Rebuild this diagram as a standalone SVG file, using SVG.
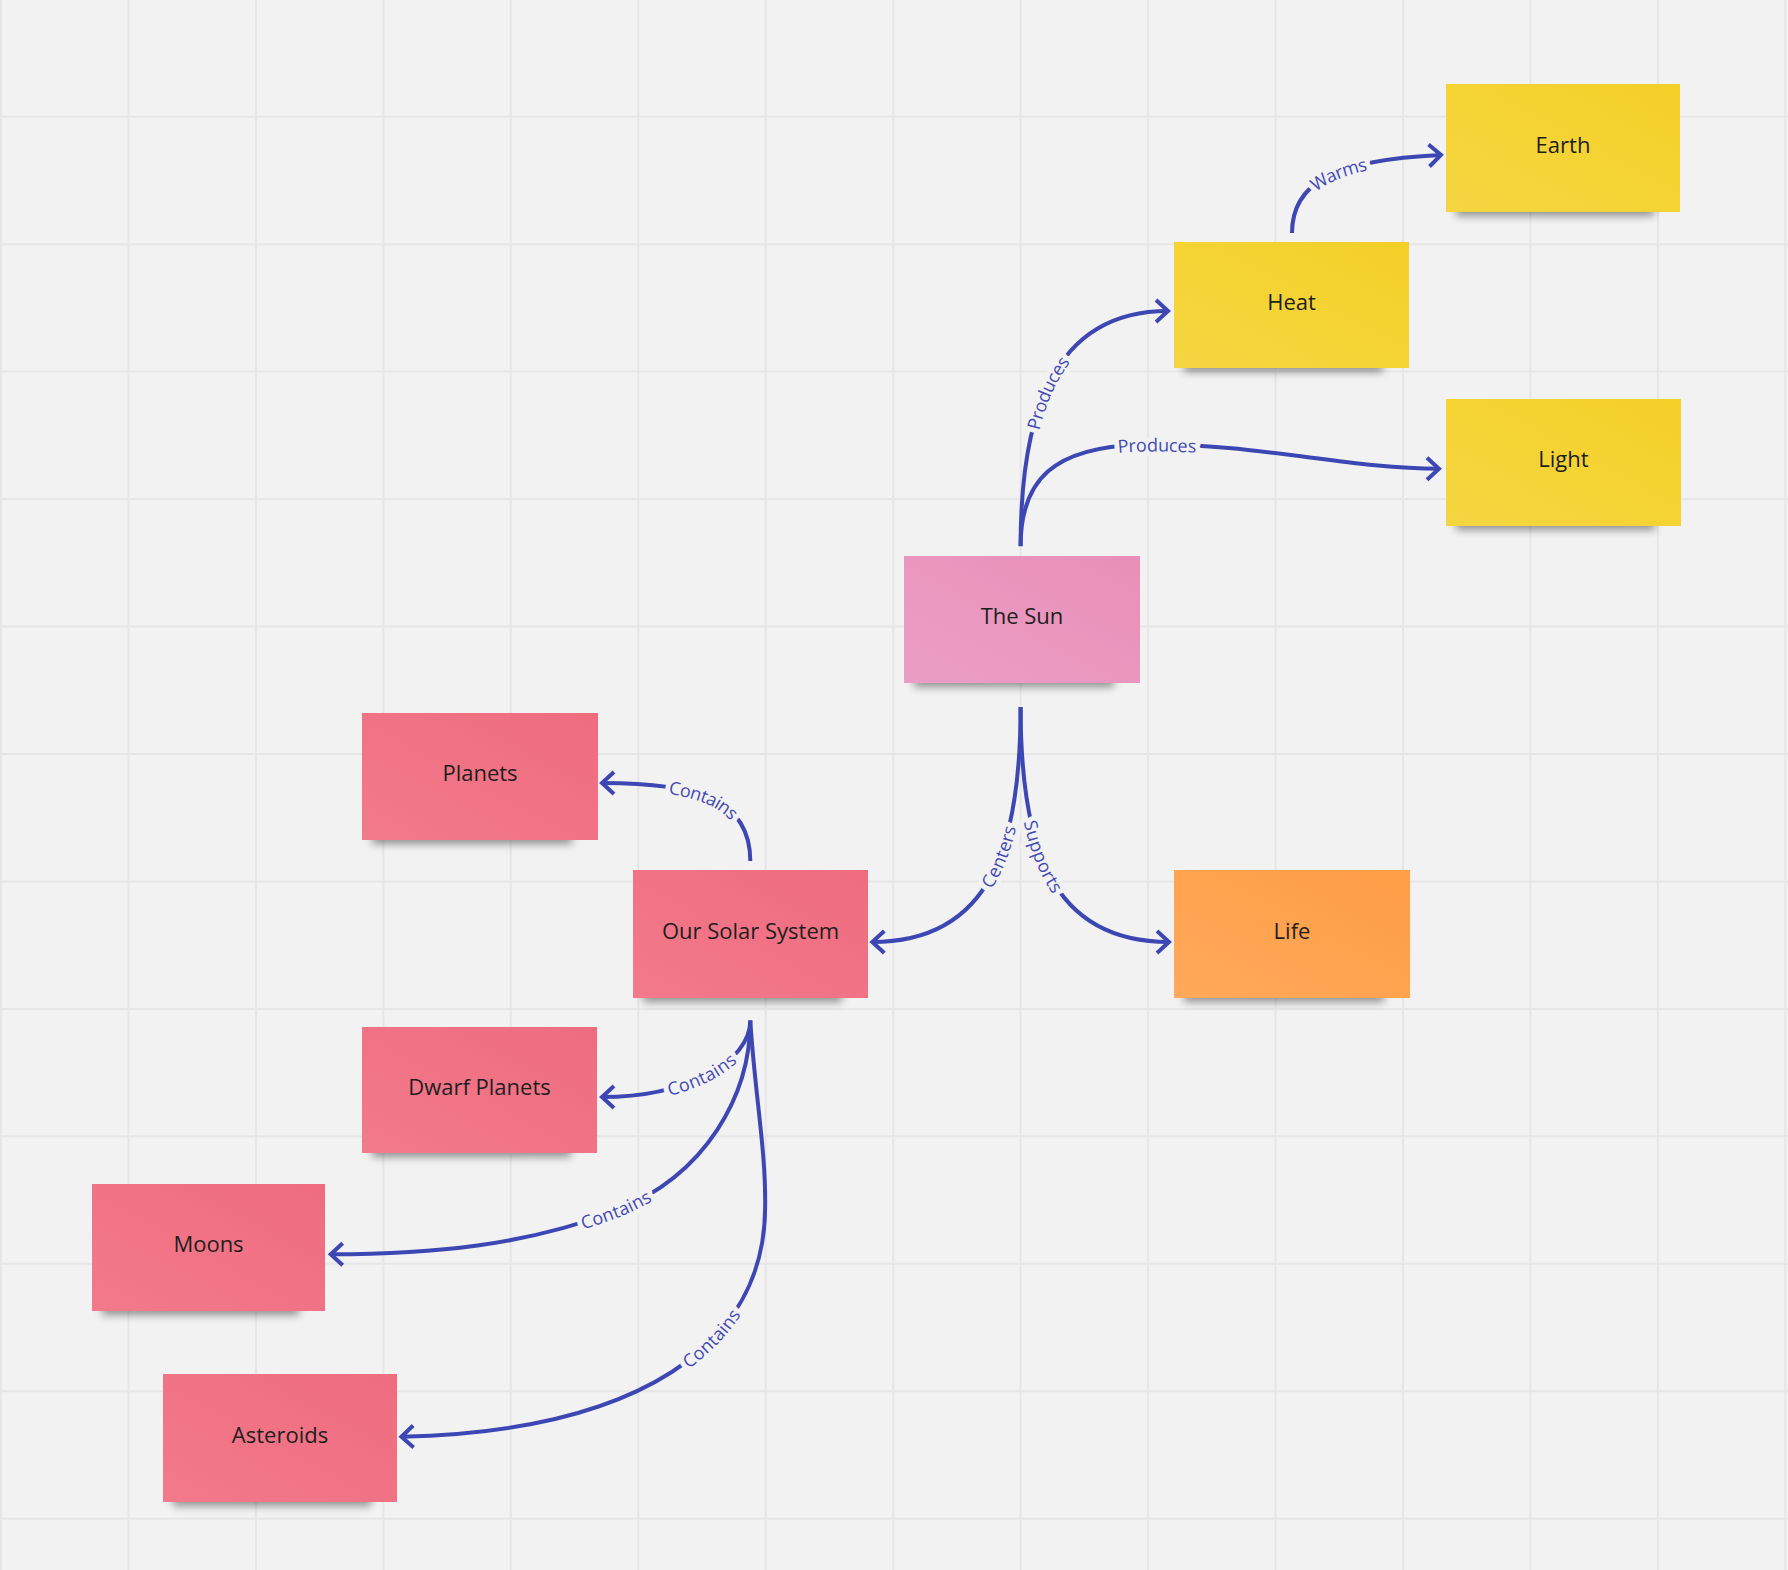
<svg xmlns="http://www.w3.org/2000/svg" width="1788" height="1570" viewBox="0 0 1788 1570">
<style>
.grid{stroke:#e6e6e6;stroke-width:2;fill:none}
.shadow{fill:#000;opacity:.4;filter:url(#sh)}
.ntext{font-family:"Open Sans","Noto Sans","Liberation Sans",sans-serif;font-size:22px;fill:#1e1e1e;text-anchor:middle;dominant-baseline:central}
.conn{fill:none;stroke:#3d47b4;stroke-width:4;marker-end:url(#arr)}
.lbl,.halo{font-family:"Open Sans","Noto Sans","Liberation Sans",sans-serif;font-size:18px;text-anchor:middle;dominant-baseline:central}
.lbl{fill:#4149b5}
.halo{fill:#f2f2f2;stroke:#f2f2f2;stroke-width:10;stroke-linejoin:round}
</style>
<defs>
<filter id="sh" x="-20%" y="-100%" width="140%" height="300%"><feGaussianBlur stdDeviation="4"/></filter>
<linearGradient id="gY" x1="1" y1="0" x2="0" y2="1"><stop offset="0" stop-color="#f3d027"/><stop offset="1" stop-color="#f5d641"/></linearGradient>
<linearGradient id="gP" x1="1" y1="0" x2="0" y2="1"><stop offset="0" stop-color="#e98fb8"/><stop offset="1" stop-color="#eb9ec4"/></linearGradient>
<linearGradient id="gR" x1="1" y1="0" x2="0" y2="1"><stop offset="0" stop-color="#ef6c7f"/><stop offset="1" stop-color="#f27a8b"/></linearGradient>
<linearGradient id="gO" x1="1" y1="0" x2="0" y2="1"><stop offset="0" stop-color="#fe9d45"/><stop offset="1" stop-color="#ffa95a"/></linearGradient>
<marker id="arr" markerUnits="userSpaceOnUse" viewBox="-16 -16 20 32" markerWidth="20" markerHeight="32" refX="0" refY="0" orient="auto" overflow="visible">
<path d="M-12,-11 L0,0 L-12,11" fill="none" stroke="#3d47b4" stroke-width="4" stroke-linejoin="miter"/>
</marker>
<path id="p1" d="M1292,233 C1292,185 1330,160 1441,155"/>
<path id="p2" d="M1020.6,546 C1020.6,420 1050,311 1168,311"/>
<path id="p3" d="M1020.6,546.2 C1020.6,478.9 1054.8,447 1140.3,444.7 C1254.3,442.4 1345.6,468.7 1439,468.7"/>
<path id="p4" d="M1020.6,707 C1020.6,843.8 992,942 872.3,942"/>
<path id="p4r" d="M872.3,942 C992,942 1020.6,843.8 1020.6,707"/>
<path id="p5" d="M1020.6,707 C1020.6,843.8 1049,942 1169,942"/>
<path id="p6" d="M750.3,861 C750.3,798 695.6,783 602,783"/>
<path id="p6r" d="M602,783 C695.6,783 750.3,798 750.3,861"/>
<path id="p7" d="M750.3,1020.6 C750.3,1063 683.7,1097 602,1097"/>
<path id="p7r" d="M602,1097 C683.7,1097 750.3,1063 750.3,1020.6"/>
<path id="p8" d="M750.3,1020.6 C750.3,1094.7 707,1174.5 615.8,1211 C524.5,1245.3 433.3,1254.3 330.7,1254.3"/>
<path id="p8r" d="M330.7,1254.3 C433.3,1254.3 524.5,1245.3 615.8,1211 C707,1174.5 750.3,1094.7 750.3,1020.6"/>
<path id="p9" d="M750.3,1020.6 C754.9,1094.7 766.3,1151.7 765.1,1208.7 C764,1345.6 638.6,1431.1 401.4,1436.8"/>
<path id="p9r" d="M401.4,1436.8 C638.6,1431.1 764,1345.6 765.1,1208.7 C766.3,1151.7 754.9,1094.7 750.3,1020.6"/>
</defs>
<rect x="0" y="0" width="1788" height="1570" fill="#f2f2f2"/>
<path class="grid" d="M1,0V1570M128.5,0V1570M255.9,0V1570M383.4,0V1570M510.8,0V1570M638.3,0V1570M765.7,0V1570M893.2,0V1570M1020.6,0V1570M1148.1,0V1570M1275.5,0V1570M1403,0V1570M1530.4,0V1570M1657.9,0V1570M1785.3,0V1570M0,116.7H1788M0,244.2H1788M0,371.6H1788M0,499.1H1788M0,626.5H1788M0,754H1788M0,881.4H1788M0,1008.9H1788M0,1136.3H1788M0,1263.8H1788M0,1391.2H1788M0,1518.7H1788"/>

<g id="node-earth"><rect class="shadow" x="1456" y="202" width="198" height="14"/><rect x="1446" y="84" width="234" height="128" fill="url(#gY)"/><text class="ntext" x="1563" y="144">Earth</text></g>
<g id="node-heat"><rect class="shadow" x="1184" y="358" width="199" height="14"/><rect x="1174" y="242" width="235" height="126" fill="url(#gY)"/><text class="ntext" x="1291.5" y="301">Heat</text></g>
<g id="node-light"><rect class="shadow" x="1456" y="516" width="199" height="14"/><rect x="1446" y="399" width="235" height="127" fill="url(#gY)"/><text class="ntext" x="1563.5" y="458">Light</text></g>
<g id="node-sun"><rect class="shadow" x="914" y="673" width="200" height="14"/><rect x="904" y="556" width="236" height="127" fill="url(#gP)"/><text class="ntext" x="1022" y="615">The Sun</text></g>
<g id="node-planets"><rect class="shadow" x="372" y="830" width="200" height="14"/><rect x="362" y="713" width="236" height="127" fill="url(#gR)"/><text class="ntext" x="480" y="772">Planets</text></g>
<g id="node-oss"><rect class="shadow" x="643" y="988" width="199" height="14"/><rect x="633" y="870" width="235" height="128" fill="url(#gR)"/><text class="ntext" x="750.5" y="930">Our Solar System</text></g>
<g id="node-life"><rect class="shadow" x="1184" y="988" width="200" height="14"/><rect x="1174" y="870" width="236" height="128" fill="url(#gO)"/><text class="ntext" x="1292" y="930">Life</text></g>
<g id="node-dwarf"><rect class="shadow" x="372" y="1143" width="199" height="14"/><rect x="362" y="1027" width="235" height="126" fill="url(#gR)"/><text class="ntext" x="479.5" y="1086">Dwarf Planets</text></g>
<g id="node-moons"><rect class="shadow" x="102" y="1301" width="197" height="14"/><rect x="92" y="1184" width="233" height="127" fill="url(#gR)"/><text class="ntext" x="208.5" y="1243">Moons</text></g>
<g id="node-asteroids"><rect class="shadow" x="173" y="1492" width="198" height="14"/><rect x="163" y="1374" width="234" height="128" fill="url(#gR)"/><text class="ntext" x="280" y="1434">Asteroids</text></g>

<g id="connectors">
<use href="#p1" class="conn"/>
<use href="#p2" class="conn"/>
<use href="#p3" class="conn"/>
<use href="#p4" class="conn"/>
<use href="#p5" class="conn"/>
<use href="#p6" class="conn"/>
<use href="#p7" class="conn"/>
<use href="#p8" class="conn"/>
<use href="#p9" class="conn"/>
<g id="label-halos">
<text class="halo"><textPath href="#p1" startOffset="44%">Warms</textPath></text>
<text class="halo"><textPath href="#p2" startOffset="50%">Produces</textPath></text>
<text class="halo"><textPath href="#p3" startOffset="41%">Produces</textPath></text>
<text class="halo"><textPath href="#p4r" startOffset="52%">Centers</textPath></text>
<text class="halo"><textPath href="#p5" startOffset="48%">Supports</textPath></text>
<text class="halo"><textPath href="#p6r" startOffset="55%">Contains</textPath></text>
<text class="halo"><textPath href="#p7r" startOffset="57%">Contains</textPath></text>
<text class="halo"><textPath href="#p8r" startOffset="54%">Contains</textPath></text>
<text class="halo"><textPath href="#p9r" startOffset="50%">Contains</textPath></text>
</g>
<text class="lbl"><textPath href="#p1" startOffset="44%">Warms</textPath></text>
<text class="lbl"><textPath href="#p2" startOffset="50%">Produces</textPath></text>
<text class="lbl"><textPath href="#p3" startOffset="41%">Produces</textPath></text>
<text class="lbl"><textPath href="#p4r" startOffset="52%">Centers</textPath></text>
<text class="lbl"><textPath href="#p5" startOffset="48%">Supports</textPath></text>
<text class="lbl"><textPath href="#p6r" startOffset="55%">Contains</textPath></text>
<text class="lbl"><textPath href="#p7r" startOffset="57%">Contains</textPath></text>
<text class="lbl"><textPath href="#p8r" startOffset="54%">Contains</textPath></text>
<text class="lbl"><textPath href="#p9r" startOffset="50%">Contains</textPath></text>
</g>
</svg>
